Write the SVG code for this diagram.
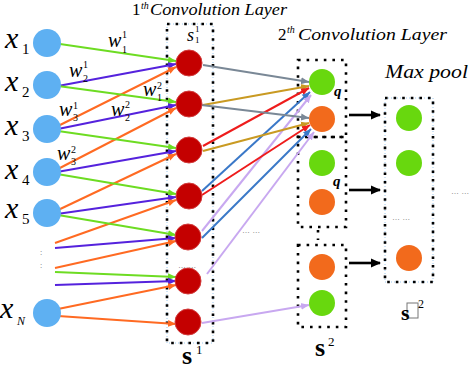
<svg xmlns="http://www.w3.org/2000/svg" width="474" height="370" viewBox="0 0 474 370">
<defs>
<style>
.in{fill:#5eb0f2}
.rn{fill:#c40000;stroke:#d23a3a;stroke-width:1}
.gn{fill:#68d80e}
.on{fill:#f26a1c}
.dots{fill:none;stroke:#000;stroke-width:2.6;stroke-dasharray:2.6 6}
.bdots{fill:none;stroke:#9cc8ee;stroke-width:1;stroke-dasharray:1 2}
.t{font-family:"Liberation Serif",serif;font-style:italic;fill:#000}
.u{font-family:"Liberation Serif",serif;fill:#000}
.b{font-family:"Liberation Serif",serif;font-weight:bold;fill:#000}
.e{font-family:"Liberation Sans",sans-serif;font-size:8px;fill:#666}
#connectors line{fill:none;stroke-width:2}
.cg{stroke:#6ddc22;marker-end:url(#mG)}
.cp{stroke:#5522dd;marker-end:url(#mP)}
.co{stroke:#ff6a22;marker-end:url(#mO)}
.cy{stroke:#7a8896;marker-end:url(#mY)}
.cd{stroke:#c99a22;marker-end:url(#mD)}
.cr{stroke:#ee1c1c;marker-end:url(#mR)}
.cb{stroke:#3a78c8;marker-end:url(#mB)}
.cl{stroke:#c8a8f0;marker-end:url(#mL)}
.ck{stroke:#000;stroke-width:2.6 !important;marker-end:url(#mK)}
</style>
<marker id="mG" markerUnits="userSpaceOnUse" markerWidth="9" markerHeight="8" refX="8" refY="4" orient="auto"><path d="M0,0.5 L8,4 L0,7.5 Z" fill="#6ddc22"/></marker>
<marker id="mP" markerUnits="userSpaceOnUse" markerWidth="9" markerHeight="8" refX="8" refY="4" orient="auto"><path d="M0,0.5 L8,4 L0,7.5 Z" fill="#5522dd"/></marker>
<marker id="mO" markerUnits="userSpaceOnUse" markerWidth="9" markerHeight="8" refX="8" refY="4" orient="auto"><path d="M0,0.5 L8,4 L0,7.5 Z" fill="#ff6a22"/></marker>
<marker id="mY" markerUnits="userSpaceOnUse" markerWidth="9" markerHeight="8" refX="8" refY="4" orient="auto"><path d="M0,0.5 L8,4 L0,7.5 Z" fill="#7a8896"/></marker>
<marker id="mD" markerUnits="userSpaceOnUse" markerWidth="9" markerHeight="8" refX="8" refY="4" orient="auto"><path d="M0,0.5 L8,4 L0,7.5 Z" fill="#c99a22"/></marker>
<marker id="mR" markerUnits="userSpaceOnUse" markerWidth="9" markerHeight="8" refX="8" refY="4" orient="auto"><path d="M0,0.5 L8,4 L0,7.5 Z" fill="#ee1c1c"/></marker>
<marker id="mB" markerUnits="userSpaceOnUse" markerWidth="9" markerHeight="8" refX="8" refY="4" orient="auto"><path d="M0,0.5 L8,4 L0,7.5 Z" fill="#3a78c8"/></marker>
<marker id="mL" markerUnits="userSpaceOnUse" markerWidth="9" markerHeight="8" refX="8" refY="4" orient="auto"><path d="M0,0.5 L8,4 L0,7.5 Z" fill="#c8a8f0"/></marker>
<marker id="mK" markerUnits="userSpaceOnUse" markerWidth="10" markerHeight="10" refX="9" refY="5" orient="auto"><path d="M0,0.5 L10,5 L0,9.5 Z" fill="#000"/></marker>
</defs>
<rect width="474" height="370" fill="#fff"/>

<!-- titles -->
<g id="titles">
<text class="u" x="132" y="15" font-size="17">1</text>
<text class="t" x="141" y="9" font-size="10">th</text>
<text class="t" x="150" y="15" font-size="17" textLength="137" lengthAdjust="spacingAndGlyphs">Convolution Layer</text>
<text class="u" x="278" y="40" font-size="17">2</text>
<text class="t" x="287" y="33" font-size="10">th</text>
<text class="t" x="298" y="40" font-size="17" textLength="149" lengthAdjust="spacingAndGlyphs">Convolution Layer</text>
<text class="t" x="385" y="78" font-size="19" textLength="83" lengthAdjust="spacingAndGlyphs">Max pool</text>
</g>

<!-- dotted boxes -->
<g id="boxes">
<rect class="bdots" x="167" y="24" width="46" height="319"/>
<rect class="dots" x="167" y="24" width="46" height="319"/>
<rect class="dots" x="298" y="60" width="48" height="77"/>
<rect class="dots" x="298" y="137" width="48" height="90"/>
<line class="dots" x1="318" y1="230" x2="318" y2="240" stroke-width="1.5"/>
<rect class="dots" x="298" y="245" width="48" height="82"/>
<rect class="bdots" x="385" y="98" width="48" height="184"/>
<rect class="dots" x="385" y="98" width="48" height="184"/>
</g>

<g id="connectors">
<!-- input to layer 1 -->
<line class="cg" x1="60" y1="44" x2="176" y2="61"/>
<line class="cp" x1="58" y1="86" x2="176" y2="64"/>
<line class="co" x1="56" y1="127" x2="176" y2="67"/>
<line class="cg" x1="58" y1="86" x2="176" y2="102"/>
<line class="cp" x1="58" y1="129" x2="176" y2="105"/>
<line class="co" x1="56" y1="170" x2="176" y2="108"/>
<line class="cg" x1="58" y1="131" x2="176" y2="148"/>
<line class="cp" x1="57" y1="172" x2="176" y2="151"/>
<line class="co" x1="56" y1="211" x2="176" y2="154"/>
<line class="cg" x1="57" y1="174" x2="176" y2="194"/>
<line class="cp" x1="57" y1="214" x2="176" y2="197"/>
<line class="co" x1="55" y1="243" x2="176" y2="200"/>
<line class="cg" x1="58" y1="215" x2="176" y2="235"/>
<line class="cp" x1="55" y1="248" x2="176" y2="238"/>
<line class="co" x1="55" y1="268" x2="176" y2="241"/>
<line class="cg" x1="55" y1="272" x2="176" y2="277"/>
<line class="cp" x1="55" y1="285" x2="176" y2="281"/>
<line class="co" x1="58" y1="309" x2="176" y2="285"/>
<line class="co" x1="58" y1="316" x2="176" y2="324"/>
<!-- layer 1 to layer 2 -->
<line class="cy" x1="203" y1="65" x2="309" y2="82"/>
<line class="cd" x1="203" y1="105" x2="309" y2="86"/>
<line class="cr" x1="203" y1="146" x2="309" y2="88"/>
<line class="cb" x1="202" y1="191" x2="310" y2="92"/>
<line class="cl" x1="202" y1="231" x2="311" y2="95"/>
<line class="cy" x1="193" y1="104" x2="309" y2="118"/>
<line class="cd" x1="203" y1="151" x2="309" y2="123"/>
<line class="cr" x1="202" y1="195" x2="310" y2="125"/>
<line class="cb" x1="202" y1="238" x2="311" y2="129"/>
<line class="cl" x1="207" y1="274" x2="314" y2="132"/>
<line class="cl" x1="202" y1="323" x2="309" y2="305"/>
<!-- layer 2 to max pool -->
<line class="ck" x1="349" y1="115" x2="380" y2="115"/>
<line class="ck" x1="349" y1="190" x2="380" y2="190"/>
<line class="ck" x1="349" y1="263" x2="380" y2="263"/>
</g>

<!-- input nodes -->
<g id="x1"><circle class="in" cx="47" cy="43" r="14"/><text class="t" x="5" y="48" font-size="30">x</text><text class="u" x="22" y="54" font-size="15">1</text></g>
<g id="x2"><circle class="in" cx="47" cy="85" r="14"/><text class="t" x="5" y="91" font-size="30">x</text><text class="u" x="22" y="97" font-size="15">2</text></g>
<g id="x3"><circle class="in" cx="47" cy="129" r="14"/><text class="t" x="5" y="135" font-size="30">x</text><text class="u" x="22" y="141" font-size="15">3</text></g>
<g id="x4"><circle class="in" cx="47" cy="172" r="14"/><text class="t" x="5" y="179" font-size="30">x</text><text class="u" x="22" y="185" font-size="15">4</text></g>
<g id="x5"><circle class="in" cx="47" cy="213" r="14"/><text class="t" x="5" y="218" font-size="30">x</text><text class="u" x="22" y="224" font-size="15">5</text></g>
<g id="xdots"><text class="e" x="40" y="255">:</text><text class="e" x="40" y="268">:</text></g>
<g id="xN"><circle class="in" cx="47" cy="313" r="14"/><text class="t" x="0" y="318" font-size="30">x</text><text class="t" x="17" y="325" font-size="12">N</text></g>

<!-- weight labels -->
<g id="weights">
<text class="t" x="108" y="47" font-size="20">w</text><text class="u" x="122" y="38" font-size="10">1</text><text class="u" x="122" y="53" font-size="10">1</text>
<text class="t" x="69" y="77" font-size="20">w</text><text class="u" x="83" y="68" font-size="10">1</text><text class="u" x="83" y="82" font-size="10">2</text>
<text class="t" x="143" y="96" font-size="20">w</text><text class="u" x="157" y="89" font-size="10">2</text><text class="u" x="157" y="101" font-size="10">1</text>
<text class="t" x="59" y="116" font-size="20">w</text><text class="u" x="73" y="109" font-size="10">1</text><text class="u" x="73" y="121" font-size="10">3</text>
<text class="t" x="111" y="116" font-size="20">w</text><text class="u" x="125" y="108" font-size="10">2</text><text class="u" x="125" y="121" font-size="10">2</text>
<text class="t" x="57" y="160" font-size="20">w</text><text class="u" x="71" y="153" font-size="10">2</text><text class="u" x="71" y="165" font-size="10">3</text>
</g>

<!-- layer 1 nodes -->
<g id="s1_1"><circle class="rn" cx="189" cy="63" r="13"/></g>
<g id="s1_2"><circle class="rn" cx="189" cy="104" r="13"/></g>
<g id="s1_3"><circle class="rn" cx="189" cy="150" r="13"/></g>
<g id="s1_4"><circle class="rn" cx="189" cy="196" r="13"/></g>
<g id="s1_5"><circle class="rn" cx="188" cy="237" r="13"/></g>
<g id="s1_6"><circle class="rn" cx="188" cy="281" r="13"/></g>
<g id="s1_7"><circle class="rn" cx="188" cy="322" r="13"/></g>
<g id="s1label">
<text class="t" x="187" y="41" font-size="18">s</text><text class="u" x="195" y="32" font-size="9">1</text><text class="u" x="195" y="43" font-size="9">1</text>
<text class="e" x="178" y="268">… …</text>
<text class="b" x="182" y="364" font-size="26">s</text><text class="u" x="196" y="354" font-size="13">1</text>
</g>

<!-- layer 2 nodes -->
<g id="s2_1"><circle class="gn" cx="322" cy="82" r="13"/></g>
<g id="s2_2"><circle class="on" cx="322" cy="119" r="13"/></g>
<g id="s2_3"><circle class="gn" cx="322" cy="163" r="13"/></g>
<g id="s2_4"><circle class="on" cx="322" cy="202" r="13"/></g>
<g id="s2_5"><circle class="on" cx="322" cy="267" r="13"/></g>
<g id="s2_6"><circle class="gn" cx="322" cy="303" r="13"/></g>
<g id="s2label">
<text class="t" x="334" y="96" font-size="15" font-weight="bold">q</text>
<text class="t" x="333" y="186" font-size="15" font-weight="bold">q</text>
<text class="e" x="242" y="233">… …</text>
<text class="b" x="315" y="356" font-size="26">s</text><text class="u" x="328" y="346" font-size="13">2</text>
</g>

<!-- max pool nodes -->
<g id="mp_1"><circle class="gn" cx="409" cy="118" r="13"/></g>
<g id="mp_2"><circle class="gn" cx="409" cy="163" r="13"/></g>
<g id="mp_3"><circle class="on" cx="409" cy="258" r="13"/></g>
<g id="mplabel">
<text class="e" x="392" y="220">… …</text>
<text class="e" x="451" y="194">… …</text>
<rect x="407" y="303" width="11" height="15" fill="none" stroke="#777" stroke-width="1"/>
<text class="b" x="401" y="320" font-size="22">s</text><text class="u" x="418" y="308" font-size="12">2</text>
</g>
</svg>
